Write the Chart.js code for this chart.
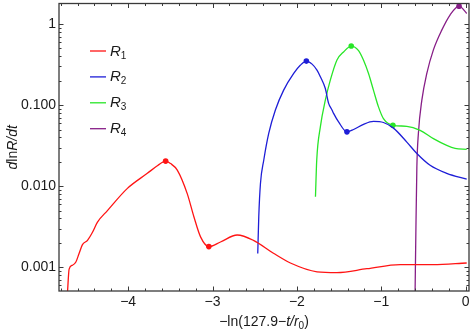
<!DOCTYPE html>
<html>
<head>
<meta charset="utf-8">
<script src="https://cdn.jsdelivr.net/npm/chart.js@4.4.0/dist/chart.umd.min.js"></script>
<style>
  html, body { margin: 0; padding: 0; background: #fff; }
  #wrap { width: 474px; height: 332px; }
</style>
</head>
<body>
<div id="wrap"><canvas id="rate-chart"></canvas></div>
<script>
// growth rate curves, x = -ln(127.9 - t/r0)
const r1_x = [-4.719, -4.70, -4.66, -4.62, -4.582, -4.542, -4.482, -4.423, -4.364, -4.246, -4.009, -3.773, -3.65, -3.556, -3.497, -3.418, -3.30, -3.221, -3.142, -3.044, -2.906, -2.708, -2.515, -2.278, -2.077, -1.761, -1.525, -1.17, -0.776, -0.386, 0.013];
const r1_y = [0.0005, 0.00095, 0.00106, 0.00116, 0.00148, 0.0019, 0.00215, 0.0027, 0.0036, 0.0050, 0.0094, 0.0144, 0.0180, 0.0204, 0.0190, 0.0158, 0.0081, 0.0042, 0.00237, 0.0018, 0.00205, 0.0025, 0.00215, 0.00149, 0.00113, 0.00088, 0.00086, 0.00096, 0.00108, 0.00108, 0.00113];
const r1_marks = [13, 19];

const r2_x = [-2.464, -2.452, -2.432, -2.393, -2.334, -2.255, -2.157, -2.038, -1.96, -1.888, -1.82, -1.762, -1.722, -1.663, -1.624, -1.584, -1.565, -1.506, -1.407, -1.328, -1.21, -1.092, -0.974, -0.855, -0.697, -0.578, -0.421, -0.224, 0.013];
const r2_y = [0.00148, 0.0042, 0.0108, 0.0209, 0.0447, 0.087, 0.153, 0.246, 0.31, 0.349, 0.32, 0.27, 0.224, 0.16, 0.105, 0.087, 0.079, 0.062, 0.0468, 0.050, 0.058, 0.063, 0.061, 0.052, 0.035, 0.0253, 0.0181, 0.0144, 0.0122];
const r2_marks = [9, 18];

const r3_x = [-1.78, -1.765, -1.722, -1.663, -1.604, -1.525, -1.447, -1.356, -1.269, -1.21, -1.151, -1.092, -1.033, -0.974, -0.862, -0.697, -0.539, -0.382, -0.224, -0.125, 0.013];
const r3_y = [0.0074, 0.0209, 0.054, 0.115, 0.203, 0.36, 0.452, 0.535, 0.47, 0.357, 0.245, 0.152, 0.095, 0.068, 0.0564, 0.0548, 0.0489, 0.0386, 0.0319, 0.0293, 0.0285];
const r3_marks = [7, 14];

const r4_x = [-0.599, -0.59, -0.578, -0.56, -0.519, -0.46, -0.382, -0.283, -0.185, -0.078, 0.013];
const r4_y = [0.0005, 0.00263, 0.0173, 0.0447, 0.115, 0.246, 0.48, 0.84, 1.29, 1.66, 1.35];
const r4_marks = [9];

const series_subs = ['1', '2', '3', '4'];
const series_colors = ['rgb(255,20,20)', 'rgb(30,30,215)', 'rgb(40,230,40)', 'rgb(135,30,135)'];

const x_ticks = [-4, -3, -2, -1, 0];
const y_ticks = [0.001, 0.01, 0.1, 1];
const y_tick_labels = ['0.001', '0.010', '0.100', '1'];

const FONT = '"Liberation Sans", Arial, sans-serif';

function make_series(xs, ys, marks, color) {
  return {
    data: xs.map((x, i) => ({x: x, y: ys[i]})),
    borderColor: color,
    backgroundColor: color,
    borderWidth: 1.3,
    showLine: true,
    cubicInterpolationMode: 'monotone',
    pointRadius: xs.map((x, i) => marks.includes(i) ? 2.8 : 0),
    pointBorderWidth: 0,
    pointHoverRadius: 0
  };
}

// draws text pieces with different fonts, centred on cx
function draw_runs(ctx, runs, cx, baseline) {
  let total = 0;
  for (const r of runs) { ctx.font = r.font; total += ctx.measureText(r.text).width; }
  let x = cx - total / 2;
  for (const r of runs) {
    ctx.font = r.font;
    ctx.fillText(r.text, x, baseline + (r.dy || 0));
    x += ctx.measureText(r.text).width;
  }
}

// axis labels must not push the plot area in
function no_label_padding(scale) {
  scale.paddingTop = 0;
  scale.paddingBottom = 0;
  scale.paddingLeft = 0;
  scale.paddingRight = 0;
}

const frame_plugin = {
  id: 'frame',
  afterDatasetsDraw(chart) {
    const {ctx, chartArea: a, scales: {x, y}} = chart;
    ctx.save();
    ctx.strokeStyle = '#3a3a3a';
    ctx.lineWidth = 1.3;
    ctx.strokeRect(a.left, a.top, a.right - a.left, a.bottom - a.top);
    ctx.lineWidth = 1;
    ctx.beginPath();
    // x ticks every 0.2, major on integers
    for (let k = -24; k <= 0; k++) {
      const px = Math.round(x.getPixelForValue(k / 5)) + 0.5;
      const len = k % 5 === 0 ? 4.5 : 2.5;
      ctx.moveTo(px, a.bottom); ctx.lineTo(px, a.bottom - len);
      ctx.moveTo(px, a.top); ctx.lineTo(px, a.top + len);
    }
    // log ticks on y
    for (let d = -4; d <= 0; d++) {
      for (let m = 1; m <= 9; m++) {
        const v = m * Math.pow(10, d);
        if (v < y.min || v > y.max) continue;
        const py = Math.round(y.getPixelForValue(v)) + 0.5;
        const len = m === 1 ? 4.5 : 2.5;
        ctx.moveTo(a.left, py); ctx.lineTo(a.left + len, py);
        ctx.moveTo(a.right, py); ctx.lineTo(a.right - len, py);
      }
    }
    ctx.stroke();
    ctx.restore();
  },
  afterDraw(chart) {
    const {ctx, chartArea: a} = chart;
    ctx.save();
    ctx.fillStyle = '#1a1a1a';
    ctx.textAlign = 'left';
    ctx.textBaseline = 'alphabetic';

    // axis titles
    const cx = (a.left + a.right) / 2;
    draw_runs(ctx, [
      {text: '\u2212ln(127.9\u2212', font: '14px ' + FONT},
      {text: 't/r', font: 'italic 14px ' + FONT},
      {text: '0', font: '10px ' + FONT, dy: 3},
      {text: ')', font: '14px ' + FONT}
    ], cx, 326);

    ctx.save();
    ctx.translate(17, (a.top + a.bottom) / 2);
    ctx.rotate(-Math.PI / 2);
    draw_runs(ctx, [
      {text: 'd', font: 'italic 14px ' + FONT},
      {text: 'ln', font: '14px ' + FONT},
      {text: 'R/dt', font: 'italic 14px ' + FONT}
    ], 0, 0);
    ctx.restore();

    // legend
    series_colors.forEach((c, i) => {
      const ly = 51 + i * 25.9;
      ctx.strokeStyle = c;
      ctx.lineWidth = 1.3;
      ctx.beginPath();
      ctx.moveTo(90, ly); ctx.lineTo(106, ly);
      ctx.stroke();
      ctx.font = 'italic 15px ' + FONT;
      ctx.fillText('R', 110, ly + 4.5);
      const w = ctx.measureText('R').width;
      ctx.font = '10px ' + FONT;
      ctx.fillText(series_subs[i], 110 + w, ly + 7.5);
    });
    ctx.restore();
  }
};

new Chart(document.getElementById('rate-chart').getContext('2d'), {
  type: 'scatter',
  data: {
    datasets: [
      make_series(r1_x, r1_y, r1_marks, series_colors[0]),
      make_series(r2_x, r2_y, r2_marks, series_colors[1]),
      make_series(r3_x, r3_y, r3_marks, series_colors[2]),
      make_series(r4_x, r4_y, r4_marks, series_colors[3])
    ]
  },
  options: {
    responsive: true,
    maintainAspectRatio: false,
    animation: false,
    events: [],
    layout: { padding: { top: 3.5, right: 5, left: 0, bottom: 0 } },
    plugins: { legend: { display: false }, tooltip: { enabled: false } },
    scales: {
      x: {
        type: 'linear',
        min: -4.82,
        max: 0.04,
        grid: { display: false, drawTicks: false },
        border: { display: false },
        afterBuildTicks: scale => { scale.ticks = x_ticks.map(v => ({value: v})); },
        afterFit: scale => { scale.height = 41; no_label_padding(scale); },
        ticks: {
          padding: 3,
          maxRotation: 0,
          color: '#1a1a1a',
          font: { family: FONT, size: 14 },
          callback: v => (v < 0 ? '\u2212' + Math.abs(v) : String(v))
        }
      },
      y: {
        type: 'logarithmic',
        min: 0.00051,
        max: 1.79,
        grid: { display: false, drawTicks: false },
        border: { display: false },
        afterBuildTicks: scale => { scale.ticks = y_ticks.map(v => ({value: v})); },
        afterFit: scale => { scale.width = 59; no_label_padding(scale); },
        ticks: {
          padding: 3,
          color: '#1a1a1a',
          font: { family: FONT, size: 14 },
          callback: v => y_tick_labels[y_ticks.indexOf(v)]
        }
      }
    }
  },
  plugins: [frame_plugin]
});
</script>
</body>
</html>
